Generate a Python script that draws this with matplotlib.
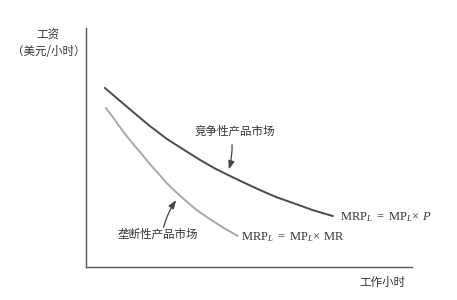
import matplotlib
matplotlib.use('Agg')
import matplotlib.pyplot as plt

plt.rcParams['font.family'] = ['Noto Sans CJK SC', 'DejaVu Sans']
plt.rcParams['mathtext.fontset'] = 'custom'
plt.rcParams['mathtext.rm'] = 'Liberation Serif'
plt.rcParams['mathtext.it'] = 'Liberation Serif:italic'

# 竞争性产品市场 (MRP = MP x P)
comp_hours = [0.58, 1.01, 1.44, 1.96, 2.48, 3.01, 3.50, 3.96, 4.42, 4.88,
              5.34, 5.83, 6.35, 6.96, 7.58]
comp_wage = [7.49, 6.99, 6.49, 5.90, 5.36, 4.90, 4.48, 4.12, 3.81, 3.51,
             3.22, 2.93, 2.68, 2.38, 2.13]
# 垄断性产品市场 (MRP = MP x MR)
mono_hours = [0.61, 0.83, 1.04, 1.26, 1.50, 1.72, 1.96, 2.21, 2.48, 2.76,
              3.04, 3.40, 3.80, 4.23, 4.66]
mono_wage = [6.65, 6.26, 5.86, 5.46, 5.06, 4.71, 4.31, 3.93, 3.51, 3.14,
             2.80, 2.38, 2.01, 1.63, 1.30]

label_comp = '竞争性产品市场'
label_mono = '垄断性产品市场'
eq_comp = r'$\mathrm{MRP}_{L}\ =\ \mathrm{MP}_{L}\!\times\!\ P$'
eq_mono = r'$\mathrm{MRP}_{L}\ =\ \mathrm{MP}_{L}\!\times\!\ \mathrm{MR}$'

fig = plt.figure(figsize=(4.57, 3.0), dpi=100)
ax = fig.add_axes([0.188, 0.11, 0.713, 0.797])
ax.set_xlim(0, 10)
ax.set_ylim(0, 10)
for s in ['top', 'right']:
    ax.spines[s].set_visible(False)
for s in ['left', 'bottom']:
    ax.spines[s].set_color('#555555')
    ax.spines[s].set_linewidth(1.0)
ax.set_xticks([])
ax.set_yticks([])

ax.plot(comp_hours, comp_wage, color='#4a4a4a', lw=1.4,
        solid_capstyle='round', solid_joinstyle='round')
ax.plot(mono_hours, mono_wage, color='#a8a8a8', lw=1.4,
        solid_capstyle='round', solid_joinstyle='round')

tc = '#333333'
ax.text(3.34, 5.69, label_comp, fontsize=8.3, color=tc, va='center', ha='left')
ax.text(3.44, 1.38, label_mono, fontsize=8.3, color=tc, va='center', ha='right')
ax.text(7.79, 2.09, eq_comp, fontsize=9, color=tc, va='center', ha='left')
ax.text(4.75, 1.26, eq_mono, fontsize=9, color=tc, va='center', ha='left')

ax.annotate('', xy=(4.36, 3.97), xytext=(4.48, 5.23),
            arrowprops=dict(arrowstyle='-|>,head_length=0.5,head_width=0.18',
                            color='#444444', lw=0.9,
                            connectionstyle='arc3,rad=-0.1'))
ax.annotate('', xy=(2.82, 2.89), xytext=(2.36, 1.55),
            arrowprops=dict(arrowstyle='-|>,head_length=0.5,head_width=0.18',
                            color='#444444', lw=0.9,
                            connectionstyle='arc3,rad=-0.1'))

ax.text(-1.17, 9.71, '工资', fontsize=8.3, color=tc, ha='center', va='center', clip_on=False)
ax.text(-1.14, 9.0, '（美元/小时）', fontsize=8.3, color=tc, ha='center', va='center', clip_on=False)
ax.text(9.11, -0.63, '工作小时', fontsize=8.3, color=tc, ha='center', va='center', clip_on=False)

fig.savefig('out.png', dpi=100)
